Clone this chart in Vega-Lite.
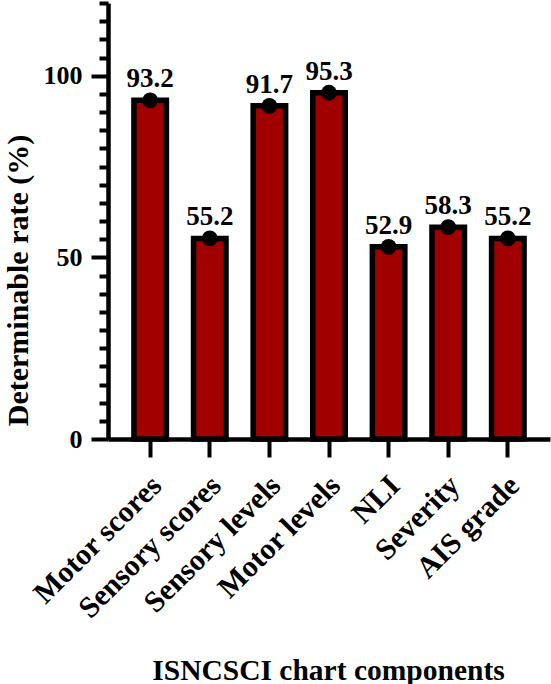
{
  "$schema": "https://vega.github.io/schema/vega-lite/v6.json",
  "width": 442,
  "height": 436,
  "autosize": "none",
  "padding": {"left": 108, "top": 3, "right": 1, "bottom": 245},
  "background": "white",
  "data": {
    "values": [
      {"component": "Motor scores", "rate": 93.2},
      {"component": "Sensory scores", "rate": 55.2},
      {"component": "Sensory levels", "rate": 91.7},
      {"component": "Motor levels", "rate": 95.3},
      {"component": "NLI", "rate": 52.9},
      {"component": "Severity", "rate": 58.3},
      {"component": "AIS grade", "rate": 55.2}
    ]
  },
  "encoding": {
    "x": {
      "field": "component",
      "type": "nominal",
      "sort": null,
      "scale": {"paddingInner": 0.455, "paddingOuter": 0.435},
      "axis": {
        "title": "ISNCSCI chart components",
        "labelAngle": -45,
        "labelFontSize": 30,
        "labelLimit": 400,
        "labelPadding": 13,
        "labelOffset": -4,
        "tickSize": 18,
        "titleFontSize": 29.5,
        "titleX": 220,
        "titleY": 240,
        "titleBaseline": "alphabetic"
      }
    },
    "y": {
      "field": "rate",
      "type": "quantitative",
      "scale": {"domain": [0, 120]},
      "axis": {
        "title": "Determinable rate (%)",
        "values": [0, 5, 10, 15, 20, 25, 30, 35, 40, 45, 50, 55, 60, 65, 70, 75, 80, 85, 90, 95, 100, 105, 110, 115, 120],
        "labelExpr": "datum.value % 50 === 0 ? datum.label : ''",
        "tickSize": {"condition": {"test": "datum.value % 50 === 0", "value": 17}, "value": 9},
        "labelPadding": 9,
        "labelFontSize": 26,
        "grid": false,
        "titleFontSize": 30,
        "titleAngle": -90,
        "titleX": -81,
        "titleY": 277,
        "titleBaseline": "alphabetic"
      }
    }
  },
  "layer": [
    {
      "mark": {"type": "bar", "fill": "#a00000", "stroke": "black", "strokeWidth": 5.5}
    },
    {
      "mark": {"type": "point", "filled": true, "color": "black", "size": 250, "opacity": 1}
    },
    {
      "mark": {"type": "text", "dy": -13, "baseline": "alphabetic", "font": "Liberation Serif", "fontWeight": "bold", "fontSize": 27},
      "encoding": {"text": {"field": "rate", "type": "quantitative", "format": ".1f"}}
    }
  ],
  "config": {
    "view": {"stroke": null},
    "axis": {
      "domainColor": "black",
      "domainWidth": 4.5,
      "tickColor": "black",
      "tickWidth": 4,
      "labelColor": "black",
      "titleColor": "black",
      "labelFont": "Liberation Serif",
      "labelFontWeight": "bold",
      "titleFont": "Liberation Serif",
      "titleFontWeight": "bold"
    }
  }
}
